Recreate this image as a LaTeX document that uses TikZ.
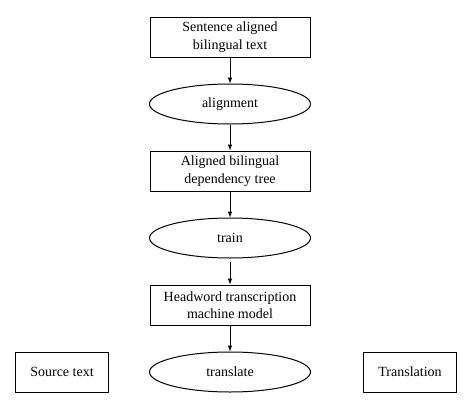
\documentclass[tikz,border=0pt]{standalone}
\usepackage{fontspec}
\setmainfont{Liberation Serif}
\usetikzlibrary{positioning,shapes.geometric}
\tikzset{
  arr/.style = {->,> = latex,line width=1pt},
  stepbox/.style = {draw,line width=1pt,rectangle,minimum width=160pt,minimum height=40pt,align=center,inner sep=1pt,font=\fontsize{14}{17.5}\selectfont},
  proc/.style = {draw,line width=1pt,ellipse,minimum width=161pt,minimum height=40pt,inner sep=0pt,font=\fontsize{14}{17.5}\selectfont},
  side/.style = {stepbox,minimum width=93pt}
}
\begin{document}
\begin{tikzpicture}[node distance=26pt]
\useasboundingbox (0,0) rectangle (474pt,-407pt);
\node[stepbox] (src) at (230pt,-37pt) {Sentence aligned\\bilingual text};

\node[proc,below=of src] (align) {alignment};

\node[stepbox,below=of align] (tree) {Aligned bilingual\\dependency tree};

\node[proc,below=of tree] (train) {train};

\node[stepbox,below=of train] (model) {Headword transcription\\machine model};

\node[proc,below=of model] (trans) {translate};

\node[side,left=40pt of trans] (srct) {Source text};
\node[side,right=52pt of trans] (tgt) {Translation};

\draw[arr] (src) -- (align);
\draw[arr] (align) -- (tree);
\draw[arr] (tree) -- (train);
\draw[arr,shorten <=3pt] (train) -- (model);
\draw[arr] (model) -- (trans);
\end{tikzpicture}
\end{document}
